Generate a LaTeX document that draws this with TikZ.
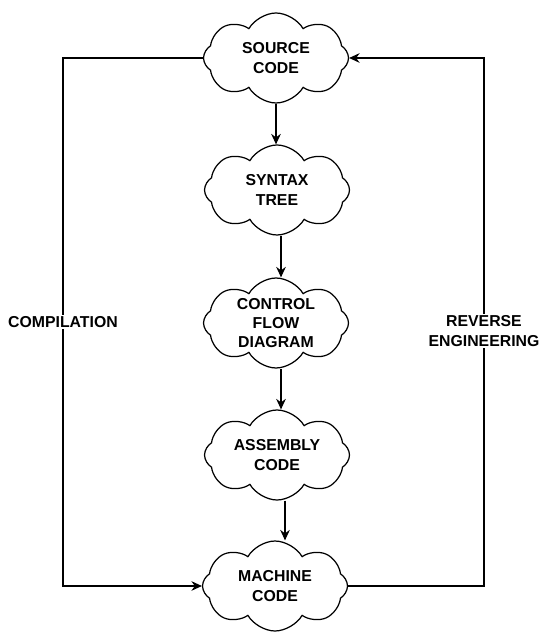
\documentclass[tikz,border=0pt]{standalone}
\usepackage{fontspec}
\setmainfont{Liberation Sans}
\usepackage{tikz}
\usetikzlibrary{calc,arrows.meta,shapes.symbols}

\tikzset{
  blob/.style={cloud,draw,cloud puffs=8,cloud puff arc=120,cloud ignores aspect,
    minimum width=2.9cm,minimum height=1.8cm,inner sep=0pt,align=center,
    line width=0.7pt,font=\fontsize{9}{11}\selectfont\bfseries},
  flow/.style={line width=0.7pt,-{Stealth[length=6pt,width=5.5pt,inset=2pt]}},
  side/.style={fill=white,align=center,inner sep=1pt,font=\fontsize{9}{11}\selectfont\bfseries}
}

\begin{document}
\begin{tikzpicture}[x=0.02cm,y=-0.02cm]
                 \useasboundingbox (0,0) rectangle (550,644);
                 % the five stages
                 \node[blob](src)at(276,58){SOURCE\\CODE};
                 \node[blob](syn)at(277,190){SYNTAX\\TREE};
                 \node[blob](cfd)at(276,323){CONTROL\\FLOW\\DIAGRAM};
                 \node[blob](asm)at(277,455){ASSEMBLY\\CODE};
                 \node[blob](mch)at(275,586){MACHINE\\CODE};
                 % downward chain, kept vertical
                 \coordinate(c1)at(276,0);
                 \coordinate(c2)at(281,0);
                 \coordinate(c3)at(281,0);
                 \coordinate(c4)at(285,0);
                 \draw[flow](c1|-src.south)--(c1|-syn.north);
                 \draw[flow](c2|-syn.south)--(c2|-cfd.north);
                 \draw[flow](c3|-cfd.south)--(c3|-asm.north);
                 \draw[flow](c4|-asm.south)--(c4|-mch.north);
                 % outer loops
                 \coordinate(lft)at(63,0);
                 \coordinate(rgt)at(484,0);
                 \draw[flow](src.west)--(src.west-|lft)--(mch.west-|lft)--(mch.west);
                 \draw[flow](mch.east)--(mch.east-|rgt)--(src.east-|rgt)--(src.east);
                 \node[side](cmp)at(63,322){COMPILATION};
                 \node[side](rev)at(484,331){REVERSE\\ENGINEERING};
               \end{tikzpicture}
\end{document}
